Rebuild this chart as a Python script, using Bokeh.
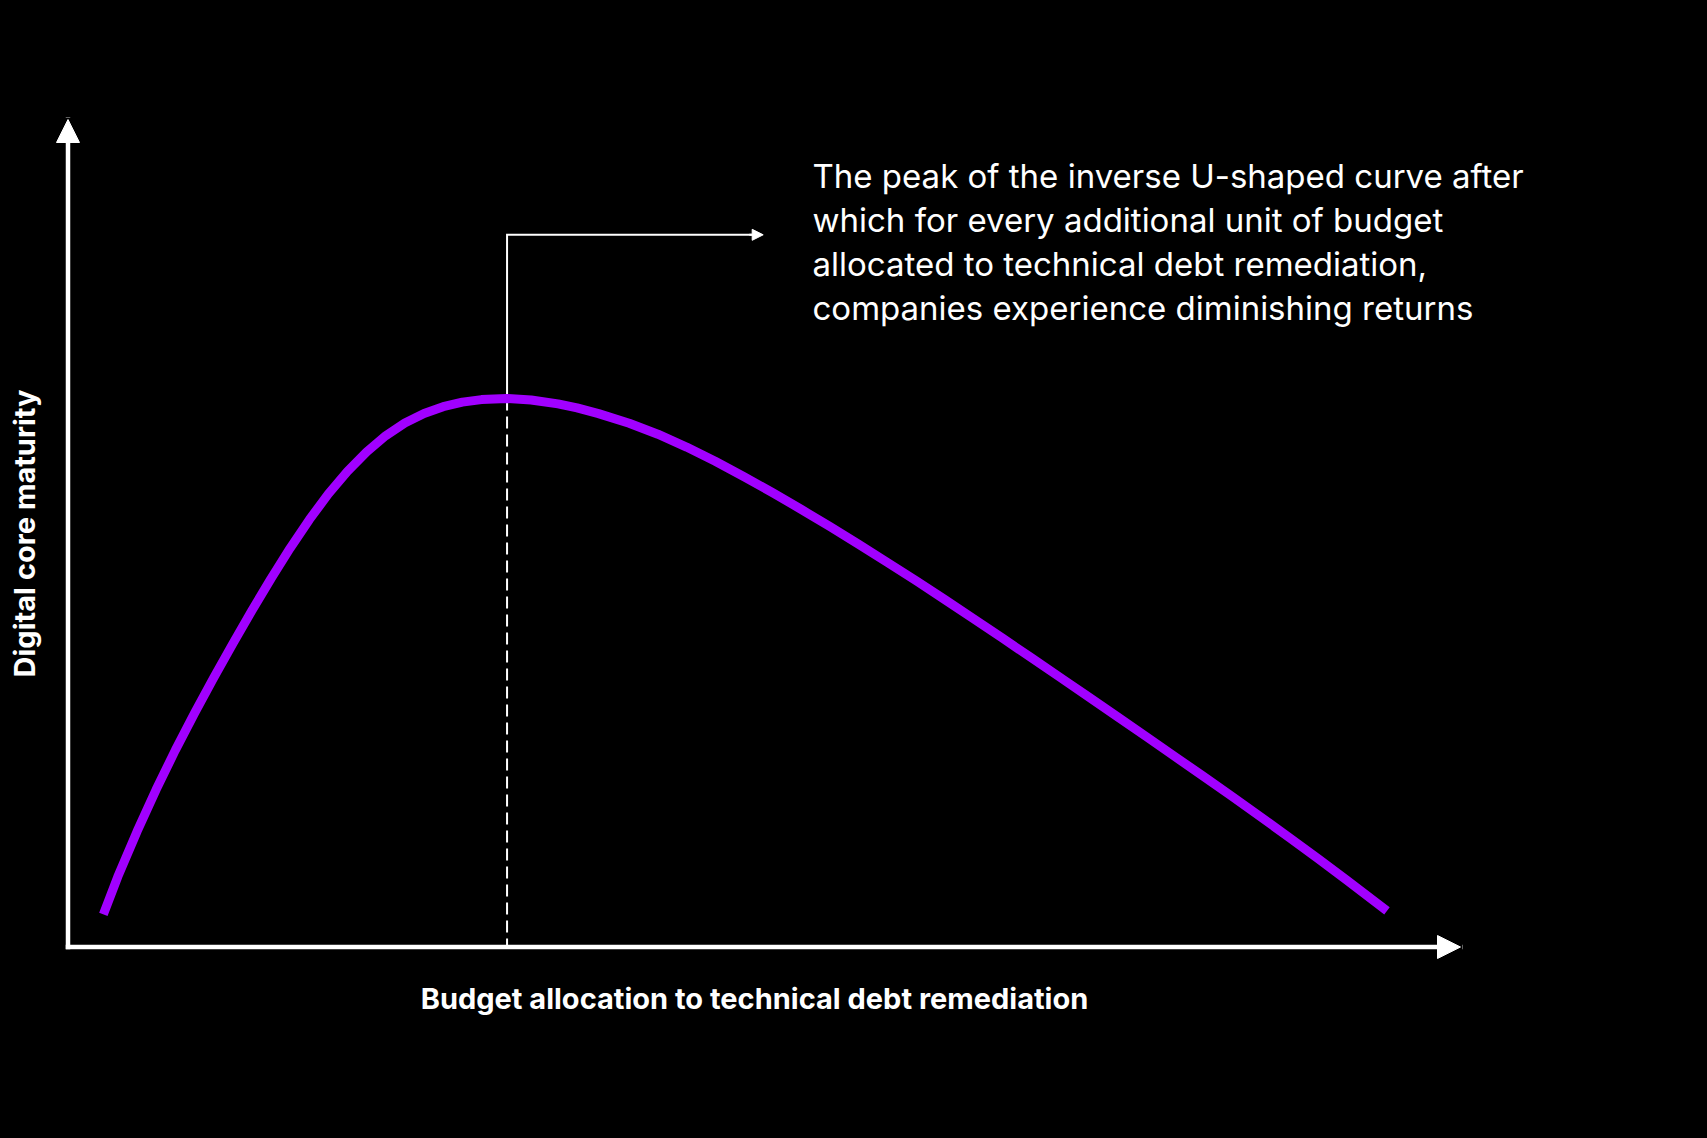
import math
from bokeh.plotting import figure
from bokeh.models import Range1d, Label, Arrow, NormalHead
from bokeh.embed import file_html
from bokeh.resources import INLINE

# ---------------- data (arbitrary 0-100 units) ----------------
budget = [2.54, 3.58, 4.96, 6.33, 7.71, 9.08, 10.46, 11.83, 13.21, 14.58, 15.95,
          17.33, 18.70, 20.07, 21.45, 22.82, 24.19, 25.57, 26.94, 28.32, 29.69,
          31.53, 33.26, 35.19, 36.56, 38.10, 40.30, 42.36, 44.42, 46.48, 48.55,
          50.61, 52.67, 54.73, 56.79, 58.85, 60.91, 62.97, 65.03, 67.10, 69.16,
          71.22, 73.28, 75.34, 77.41, 79.47, 81.53, 83.59, 85.65, 87.71, 89.77,
          91.83, 94.72]
maturity = [3.93, 8.51, 13.96, 19.03, 23.79, 28.24, 32.52, 36.63, 40.66, 44.52, 48.19,
            51.64, 54.76, 57.47, 59.84, 61.79, 63.32, 64.48, 65.30, 65.85, 66.15,
            66.28, 66.11, 65.63, 65.14, 64.46, 63.29, 61.97, 60.42, 58.69, 56.83,
            54.89, 52.87, 50.79, 48.65, 46.47, 44.25, 41.98, 39.67, 37.33, 34.98,
            32.61, 30.24, 27.85, 25.45, 23.04, 20.63, 18.20, 15.73, 13.22, 10.67,
            8.07, 4.37]

x_label = "Budget allocation to technical debt remediation"
y_label = "Digital core maturity"
note_lines = [
    "The peak of the inverse U-shaped curve after",
    "which for every additional unit of budget",
    "allocated to technical debt remediation,",
    "companies experience diminishing returns",
]

# ---------------- layout (page pixels -> data units) ----------------
W, H = 1691, 1122
MARGIN = 0
ORIGIN_PX, ORIGIN_PY = 67.5, 946.5
X_TIP_PX, Y_TIP_PY = 1460.0, 119.0
XS = (X_TIP_PX - ORIGIN_PX) / 100.0
YS = (ORIGIN_PY - Y_TIP_PY) / 100.0


def dx(px):
    return (px - ORIGIN_PX) / XS


def dy(py):
    return (ORIGIN_PY - py) / YS


WHITE = "#FFFFFF"
PURPLE = "#A100FF"
FONT = "Inter"

p = figure(width=W, height=H, min_border=0,
           x_range=Range1d(dx(MARGIN), dx(MARGIN + W)),
           y_range=Range1d(dy(MARGIN + H), dy(MARGIN)),
           x_axis_type=None, y_axis_type=None,
           toolbar_location=None, output_backend="svg",
           background_fill_color="#000000", border_fill_color="#000000",
           outline_line_color=None)
p.grid.visible = False

# axes as arrows
p.add_layout(Arrow(x_start=0, y_start=0, x_end=0, y_end=100,
                   line_color=WHITE, line_width=4.5, line_cap="square",
                   end=NormalHead(size=23, fill_color=WHITE, line_color=WHITE, line_width=1)))
p.add_layout(Arrow(x_start=0, y_start=0, x_end=100, y_end=0,
                   line_color=WHITE, line_width=4.5, line_cap="square",
                   end=NormalHead(size=23, fill_color=WHITE, line_color=WHITE, line_width=1)))

# peak
i_peak = max(range(len(maturity)), key=lambda i: maturity[i])
peak_x, peak_y = budget[i_peak], maturity[i_peak]

# dashed drop line
p.line([peak_x, peak_x], [peak_y, 0], line_color=WHITE, line_width=2, line_dash="12 6")

# callout line
corner_y = dy(234.3)
arrow_end_x = dx(762.7)
p.line([peak_x, peak_x, arrow_end_x - 0.3], [peak_y, corner_y, corner_y],
       line_color=WHITE, line_width=2, line_join="miter")
p.add_layout(Arrow(x_start=arrow_end_x - 1.0, y_start=corner_y, x_end=arrow_end_x, y_end=corner_y,
                   line_color=WHITE, line_width=2,
                   end=NormalHead(size=11, fill_color=WHITE, line_color=WHITE, line_width=1)))

# curve
p.line(budget, maturity, line_color=PURPLE, line_width=9, line_join="round", line_cap="butt")

# note text
baselines = [175.5, 219.5, 263.5, 307.5]
for txt, b in zip(note_lines, baselines):
    p.add_layout(Label(x=dx(812), y=dy(b), text=txt, text_color=WHITE,
                       text_font=FONT, text_font_size="33px",
                       text_align="left", text_baseline="alphabetic"))

# axis titles
p.add_layout(Label(x=dx(754), y=dy(998), text=x_label, text_color=WHITE,
                   text_font=FONT, text_font_size="29px", text_font_style="bold",
                   text_align="center", text_baseline="alphabetic"))
p.add_layout(Label(x=dx(23.5), y=dy(533), text=y_label, text_color=WHITE,
                   text_font=FONT, text_font_size="29px", text_font_style="bold",
                   angle=math.pi / 2, text_align="center", text_baseline="alphabetic"))

html = file_html(p, INLINE)
html = html.replace("<body>", '<body style="background-color:#000000;">')
open("out.html", "w").write(html)
